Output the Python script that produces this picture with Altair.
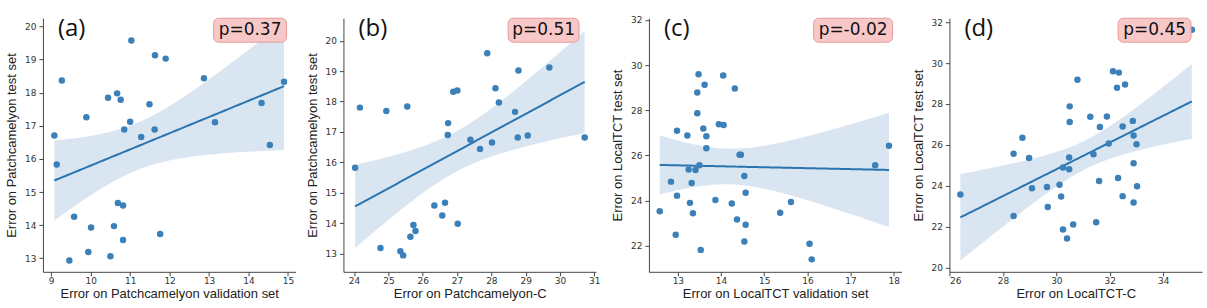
import altair as alt
import numpy as np
import pandas as pd

# ---------------- data ----------------
a_x = [9.08, 9.14, 9.27, 9.46, 9.58, 9.89, 9.94, 10.01, 10.44, 10.50, 10.59, 10.67, 10.69, 10.76, 10.82,
       10.82, 10.85, 11.00, 11.03, 11.28, 11.49, 11.62, 11.63, 11.90, 11.76, 12.87, 13.15, 14.33, 14.54, 14.90]
a_y = [16.71, 15.83, 18.37, 12.93, 14.25, 17.26, 13.19, 13.93, 17.85, 13.06, 13.97, 17.98, 14.67, 17.79, 14.59,
       13.55, 16.89, 17.12, 19.58, 16.66, 17.65, 16.89, 19.13, 19.03, 13.73, 18.44, 17.11, 17.69, 16.42, 18.33]

b_x = [24.03, 24.17, 24.77, 24.94, 25.35, 25.43, 25.55, 25.64, 25.73, 25.79, 26.34, 26.57, 26.65, 26.74, 26.73,
       26.89, 27.01, 27.02, 27.39, 27.67, 27.88, 28.02, 28.12, 28.22, 28.69, 28.77, 28.79, 29.06, 29.69, 30.72]
b_y = [15.82, 17.80, 13.18, 17.69, 13.08, 12.94, 17.84, 13.55, 13.94, 13.74, 14.58, 14.25, 14.67, 17.29, 16.90,
       18.32, 18.36, 13.98, 16.74, 16.44, 19.59, 16.65, 18.44, 17.97, 17.66, 16.82, 19.02, 16.88, 19.12, 16.82]

# last point of (c) sits behind the p-value box (same test error as the top point of (d))
c_x = [12.58, 12.84, 12.95, 12.98, 12.98, 13.22, 13.25, 13.28, 13.32, 13.35, 13.41, 13.45, 13.45, 13.48, 13.50,
       13.53, 13.59, 13.62, 13.66, 13.66, 13.87, 13.95, 14.05, 14.06, 14.25, 14.32, 14.37, 14.43, 14.46, 14.54,
       14.54, 14.57, 14.57, 15.37, 15.62, 16.05, 16.10, 17.57, 17.89, 16.60]
c_y = [23.53, 24.84, 22.49, 27.09, 24.22, 26.88, 25.38, 23.90, 24.78, 23.44, 25.35, 28.78, 27.87, 29.59, 25.56,
       21.82, 27.19, 29.13, 26.85, 26.32, 24.03, 27.38, 29.54, 27.35, 23.87, 28.96, 23.16, 26.03, 26.03, 25.09,
       22.19, 24.35, 22.93, 23.46, 23.94, 22.09, 21.40, 25.56, 26.43, 31.63]

d_x = [26.41, 28.40, 28.40, 28.73, 28.98, 29.09, 29.65, 29.68, 30.12, 30.18, 30.25, 30.25, 30.40, 30.48, 30.48,
       30.50, 30.50, 30.63, 30.79, 31.27, 31.39, 31.49, 31.60, 31.63, 31.89, 31.96, 32.12, 32.27, 32.31, 32.34,
       32.48, 32.48, 32.57, 32.86, 32.89, 32.89, 32.89, 33.00, 33.02, 35.07]
d_y = [23.57, 22.52, 25.56, 26.35, 25.36, 23.88, 23.94, 22.96, 24.05, 23.47, 24.89, 21.86, 21.42, 25.38, 24.81,
       27.88, 27.11, 22.10, 29.18, 27.37, 25.54, 22.21, 24.23, 26.87, 27.38, 26.06, 29.60, 28.79, 24.38, 29.53,
       26.90, 23.49, 28.95, 27.17, 26.46, 23.18, 25.10, 26.03, 23.97, 31.63]

panel_labels = ["(a)", "(b)", "(c)", "(d)"]
p_texts = ["p=0.37", "p=0.51", "p=-0.02", "p=0.45"]
x_titles = ["Error on Patchcamelyon validation set", "Error on Patchcamelyon-C",
            "Error on LocalTCT validation set", "Error on LocalTCT-C"]
y_titles = ["Error on Patchcamelyon test set", "Error on Patchcamelyon test set",
            "Error on LocalTCT test set", "Error on LocalTCT test set"]
x_ticks = [list(range(9, 16)), list(range(24, 32)), list(range(13, 19)), [26, 28, 30, 32, 34]]
y_ticks = [list(range(13, 21)), list(range(13, 21)), [22, 24, 26, 28, 30, 32], [20, 22, 24, 26, 28, 30, 32]]
x_domains = [[8.79, 15.19], [23.69, 31.05], [12.33, 18.18], [26.0, 35.45]]
y_domains = [[12.59, 20.25], [12.40, 20.74], [20.85, 32.07], [19.79, 32.19]]

# ---------------- styles ----------------
W, H = 253, 254
PT_COLOR = "#3b80b9"
LINE_COLOR = "#2a74b0"
BAND_COLOR = "#d9e6f2"
BOX_FILL = "#f8c8c8"
BOX_STROKE = "#e59a9a"
box_x = [(171, 244), (165, 236), (165, 244), (169, 242)]


def fit_band(xs, ys, n=100):
    x = np.asarray(xs, float)
    y = np.asarray(ys, float)
    k = len(x)
    b1, b0 = np.polyfit(x, y, 1)
    grid = np.linspace(x.min(), x.max(), n)
    yhat = b0 + b1 * grid
    resid = y - (b0 + b1 * x)
    s = np.sqrt((resid ** 2).sum() / (k - 2))
    sxx = ((x - x.mean()) ** 2).sum()
    se = s * np.sqrt(1.0 / k + (grid - x.mean()) ** 2 / sxx)
    t = 2.03
    return pd.DataFrame({"x": grid, "fit": yhat, "lo": yhat - t * se, "hi": yhat + t * se})


def axis(values, title, lab_pad, title_pad):
    return alt.Axis(values=values, tickCount=40, title=title, grid=False, format="d", labelOverlap=False,
                    labelFont="DejaVu Sans", labelFontSize=9, labelColor="#333333",
                    titleFont="Liberation Sans", titleFontSize=13, titleFontWeight="normal",
                    titleColor="#222222", domainColor="#444444", tickColor="#444444",
                    tickSize=4, labelPadding=lab_pad, titlePadding=title_pad)


def panel(i, xs, ys):
    pts = pd.DataFrame({"x": xs, "y": ys})
    band = fit_band(xs, ys)
    xsc = alt.Scale(domain=x_domains[i], nice=False, zero=False)
    ysc = alt.Scale(domain=y_domains[i], nice=False, zero=False)
    xax = axis(x_ticks[i], x_titles[i], 1, 2)
    yax = axis(y_ticks[i], y_titles[i], 3, 6)
    area = alt.Chart(band).mark_area(color=BAND_COLOR, opacity=1, clip=True).encode(
        x=alt.X("x:Q", scale=xsc, axis=xax),
        y=alt.Y("lo:Q", scale=ysc, axis=yax),
        y2="hi:Q",
    )
    line = alt.Chart(band).mark_line(color=LINE_COLOR, strokeWidth=2, clip=True).encode(
        x=alt.X("x:Q", scale=xsc, axis=xax), y=alt.Y("fit:Q", scale=ysc, axis=yax)
    )
    dots = alt.Chart(pts).mark_circle(size=42, color=PT_COLOR, opacity=1, clip=True).encode(
        x=alt.X("x:Q", scale=xsc, axis=xax), y=alt.Y("y:Q", scale=ysc, axis=yax)
    )
    lab_df = pd.DataFrame({"t": [panel_labels[i]]})
    lab = alt.Chart(lab_df).mark_text(font="Open Sans", fontSize=24, align="left", baseline="middle",
                                      color="#111111").encode(
        x=alt.value(15), y=alt.value(11), text="t:N")
    x0, x1 = box_x[i]
    box = alt.Chart(lab_df).mark_rect(fill=BOX_FILL, stroke=BOX_STROKE, strokeWidth=1,
                                      cornerRadius=5).encode(
        x=alt.value(x0), x2=alt.value(x1), y=alt.value(0), y2=alt.value(24))
    p_df = pd.DataFrame({"t": [p_texts[i]]})
    ptxt = alt.Chart(p_df).mark_text(font="DejaVu Sans", fontSize=17, align="center", baseline="middle",
                                     color="#111111").encode(
        x=alt.value((x0 + x1) / 2), y=alt.value(12), text="t:N")
    return alt.layer(area, line, dots, lab, box, ptxt).properties(width=W, height=H)


chart = alt.hconcat(
    panel(0, a_x, a_y), panel(1, b_x, b_y), panel(2, c_x, c_y), panel(3, d_x, d_y),
    spacing=10,
).properties(padding={"left": 5, "top": 15, "right": 5, "bottom": 5}).configure_view(stroke=None)

chart.save("out.html", embed_options={"renderer": "svg", "actions": False})
